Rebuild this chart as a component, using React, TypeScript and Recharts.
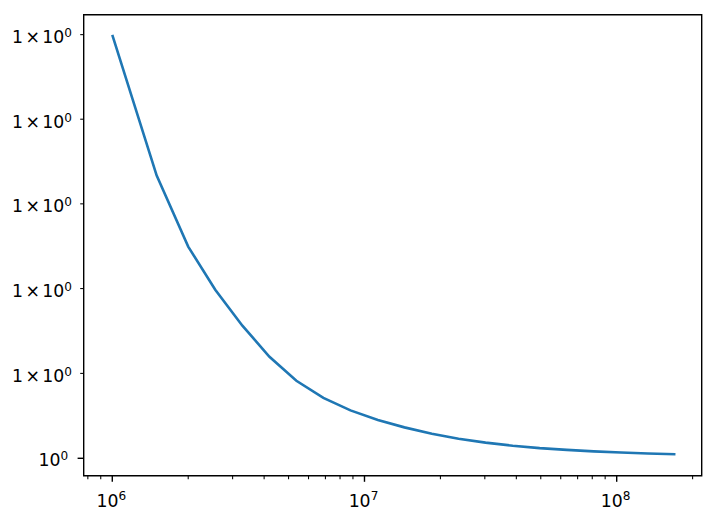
import React from "react";
import { LineChart, Line, XAxis, YAxis, ReferenceArea } from "recharts";

const xValues = [1.0e6, 1.5e6, 2.0e6, 2.56e6, 3.28e6, 4.2e6, 5.37e6, 6.87e6, 8.8e6, 1.13e7, 1.44e7, 1.85e7, 2.36e7, 3.02e7, 3.87e7, 4.95e7, 6.34e7, 8.11e7, 1.04e8, 1.33e8, 1.71e8];
const yValues = [1.004998, 1.003333, 1.002495, 1.001987, 1.001562, 1.001196, 1.000913, 1.000712, 1.000564, 1.000452, 1.000364, 1.000289, 1.00023, 1.000184, 1.000148, 1.00012, 1.0000992, 1.0000815, 1.0000673, 1.0000567, 1.0000472];

const xMajorTicks = [1e6, 1e7, 1e8];
const xMinorTicks = [8e5, 9e5, 2e6, 3e6, 4e6, 5e6, 6e6, 7e6, 8e6, 9e6, 2e7, 3e7, 4e7, 5e7, 6e7, 7e7, 8e7, 9e7, 2e8];
const xMajorLabels = ["6", "7", "8"];
const yMajorTicks = [1.0];
const yMinorTicks = [1.001, 1.002, 1.003, 1.004, 1.005];

const xDomain = [7.703e5, 2.173e8];
const yDomain = [0.999795, 1.005236];

const data = xValues.map((x, i) => ({ x, y: yValues[i] }));

const FONT = "DejaVu Sans";
const FS = 17.3;
const SUP = 12.1;

const XTick = (props: any) => {
  const { x, y, payload } = props;
  const v = payload.value;
  const mi = xMajorTicks.indexOf(v);
  const major = mi >= 0;
  return (
    <g>
      <line x1={x} x2={x} y1={y} y2={y + (major ? 6.1 : 3.5)} stroke="#000" strokeWidth={major ? 1.4 : 1.05} />
      {major && (
        <text x={x - 1} y={y + 31} textAnchor="middle" fontFamily={FONT} fontSize={FS} fill="#000">
          10<tspan dy={-6.5} fontSize={SUP}>{xMajorLabels[mi]}</tspan>
        </text>
      )}
    </g>
  );
};

const YTick = (props: any) => {
  const { x, y, payload } = props;
  const v = payload.value;
  const major = yMajorTicks.indexOf(v) >= 0;
  return (
    <g>
      <line x1={x} x2={x - (major ? 6.1 : 3.5)} y1={y} y2={y} stroke="#000" strokeWidth={major ? 1.4 : 1.05} />
      {major ? (
        <text x={x - 15.4} y={y + 7.9} textAnchor="end" fontFamily={FONT} fontSize={FS} fill="#000">
          10<tspan dy={-6.3} fontSize={SUP}>0</tspan>
        </text>
      ) : (
        <text x={x - 11.7} y={y + 8.5} textAnchor="end" fontFamily={FONT} fontSize={FS} fill="#000">
          <tspan>1</tspan>
          <tspan dx={2.4}>×</tspan>
          <tspan dx={2.4}>10</tspan>
          <tspan dy={-6.2} fontSize={SUP}>0</tspan>
        </text>
      )}
    </g>
  );
};

export default function App() {
  return (
    <div style={{ position: "absolute", left: 0, top: 0, width: 710, height: 514, background: "#fff" }}>
      <LineChart
        width={710}
        height={514}
        data={data}
        margin={{ top: 14.7, right: 8.3, bottom: 0, left: 0 }}
      >
        <XAxis
          dataKey="x"
          type="number"
          scale="log"
          domain={xDomain}
          allowDataOverflow
          ticks={[...xMinorTicks, ...xMajorTicks].sort((a, b) => a - b)}
          interval={0}
          tick={<XTick />}
          tickLine={false}
          axisLine={false}
          tickSize={0}
          tickMargin={0}
          height={38.3}
        />
        <YAxis
          dataKey="y"
          type="number"
          scale="log"
          domain={yDomain}
          allowDataOverflow
          ticks={[...yMajorTicks, ...yMinorTicks]}
          interval={0}
          tick={<YTick />}
          tickLine={false}
          axisLine={false}
          tickSize={0}
          tickMargin={0}
          width={83.7}
        />
        <ReferenceArea
          x1={xDomain[0]}
          x2={xDomain[1]}
          y1={yDomain[0]}
          y2={yDomain[1]}
          fill="none"
          fillOpacity={0}
          stroke="#000"
          strokeWidth={1.4}
          ifOverflow="visible"
        />
        <Line
          type="linear"
          dataKey="y"
          stroke="#1f77b4"
          strokeWidth={2.6}
          dot={false}
          activeDot={false}
          isAnimationActive={false}
        />
      </LineChart>
    </div>
  );
}
